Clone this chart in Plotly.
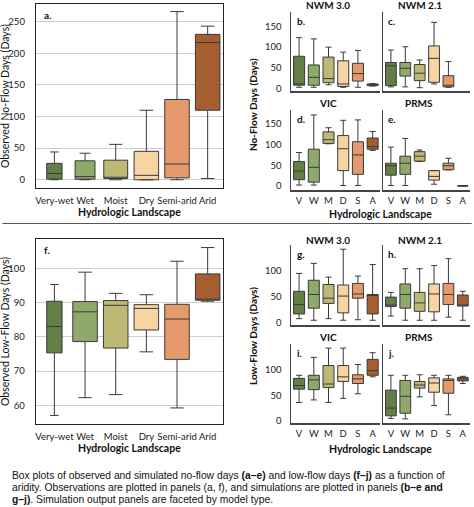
import plotly.graph_objects as go

landscapes = ["Very-wet", "Wet", "Moist", "Dry", "Semi-arid", "Arid"]
short_labels = ["V", "W", "M", "D", "S", "A"]
colors = ["#627f45", "#8fa96a", "#bdb974", "#f7d4a2", "#e49a6b", "#a65d30"]

# each row: [lower whisker, q1, median, q3, upper whisker]
obs_noflow = [[0, 1, 10, 26, 44], [0, 1, 5, 30, 42], [0, 2, 4, 31, 56],
              [0, 0, 7, 45, 110], [0, 3, 25, 127, 266], [2, 110, 217, 230, 243]]
nwm30_noflow = [[3, 8, 11, 78, 123], [3, 8, 27, 57, 120], [9, 14, 24, 76, 100],
                [3, 5, 11, 67, 88], [3, 18, 36, 61, 92], [6, 7, 9, 11, 12]]
nwm21_noflow = [[4, 7, 55, 63, 93], [4, 30, 49, 63, 101], [2, 19, 37, 58, 69],
                [11, 15, 73, 103, 160], [3, 4, 8, 31, 65], None]
vic_noflow = [[2, 15, 36, 59, 81], [2, 9, 45, 89, 172], [102, 103, 112, 131, 141],
              [1, 37, 90, 122, 159], [1, 28, 75, 107, 160], [86, 89, 95, 116, 132]]
prms_noflow = [[1, 26, 49, 55, 94], [1, 28, 55, 72, 115], [59, 60, 72, 83, 87],
               [4, 14, 23, 37, 37], [39, 39, 49, 55, 67], [0, 0, 0, 0, 0]]

obs_lowflow = [[57, 75.3, 83, 90.4, 95.3], [62.2, 78.6, 87.3, 90.3, 98.9],
               [63.1, 76.7, 89.2, 90.6, 92.7], [75.6, 82, 88.3, 89.4, 92.3],
               [59.2, 73.4, 85.2, 89.5, 102.1], [90.4, 90.7, 91, 98.4, 106.1]]
nwm30_lowflow = [[8, 17, 35, 60, 94], [5, 28, 54, 81, 113], [8, 37, 47, 73, 87],
                 [5, 19, 51, 72, 140], [6, 47, 55, 75, 89], [5, 17, 52, 54, 111]]
nwm21_lowflow = [[13, 31, 34, 49, 58], [5, 28, 54, 74, 103], [5, 22, 38, 58, 103],
                 [5, 21, 55, 74, 109], [11, 35, 54, 75, 122], [5, 32, 34, 53, 60]]
vic_lowflow = [[36, 62, 69, 83, 89], [41, 61, 80, 89, 124], [36, 65, 72, 108, 142],
               [44, 77, 86, 108, 142], [53, 73, 82, 90, 110], [86, 89, 98, 120, 133]]
prms_lowflow = [[5, 10, 25, 60, 89], [4, 15, 48, 79, 89], [47, 64, 70, 77, 90],
                [30, 56, 74, 84, 89], [12, 54, 79, 82, 89], [73, 78, 82, 85, 87]]

caption_lines = [
    "Box plots of observed and simulated no-flow days <b>(a–e)</b> and low-flow days <b>(f–j)</b> as a function of",
    "aridity. Observations are plotted in panels (a, f), and simulations are plotted in panels <b>(b–e and</b>",
    "<b>g–j)</b>. Simulation output panels are faceted by model type.",
]

W, H = 474, 507
FONT = "Lato"
LINE = "#3a3a3a"


def fx(p):
    return p / W


def fy(p):
    return 1 - p / H


fig = go.Figure()

# axis id, data, labels, x px, y px, y range, tick vals, show x labels, show y labels, framed, letter, widths
panels = [
    ("", obs_noflow, landscapes, (36, 223), (4, 188), [-13, 278], [0, 50, 100, 150, 200, 250], True, True, True, "a.", [0.5, 0.65, 0.78, 0.8, 0.8, 0.8]),
    ("2", nwm30_noflow, short_labels, (291, 380), (12, 91), [-6, 185], [0, 50, 100, 150], False, True, False, "b.", [0.75] * 6),
    ("3", nwm21_noflow, short_labels, (383, 470), (12, 91), [-6, 185], [0, 50, 100, 150], False, False, False, "c.", [0.75] * 6),
    ("4", vic_noflow, short_labels, (291, 380), (110, 190), [-10, 184], [0, 50, 100, 150], True, True, False, "d.", [0.75] * 6),
    ("5", prms_noflow, short_labels, (383, 470), (110, 190), [-10, 184], [0, 50, 100, 150], True, False, False, "e.", [0.75] * 6),
    ("6", obs_lowflow, landscapes, (36, 223), (239, 424), [54.5, 108.6], [60, 70, 80, 90, 100], True, True, True, "f.", [0.5, 0.8, 0.8, 0.8, 0.8, 0.8]),
    ("7", nwm30_lowflow, short_labels, (291, 380), (245, 325), [-4, 148], [0, 50, 100], False, True, False, "g.", [0.75] * 6),
    ("8", nwm21_lowflow, short_labels, (383, 470), (245, 325), [-4, 148], [0, 50, 100], False, False, False, "h.", [0.75] * 6),
    ("9", vic_lowflow, short_labels, (291, 380), (344, 423), [-4, 150], [0, 50, 100], True, True, False, "i.", [0.75] * 6),
    ("10", prms_lowflow, short_labels, (383, 470), (344, 423), [-4, 150], [0, 50, 100], True, False, False, "j.", [0.75] * 6),
]

layout_axes = {}
annotations = []
for sid, data, labels, xpx, ypx, yr, tv, showx, showy, framed, letter, widths in panels:
    xref = "x" + sid
    yref = "y" + sid
    for lab, stats, col, w in zip(labels, data, colors, widths):
        if stats is None:
            continue
        lo, q1, med, q3, hi = stats
        fig.add_trace(go.Box(
            x=[lab], q1=[q1], median=[med], q3=[q3], lowerfence=[lo], upperfence=[hi],
            xaxis=xref, yaxis=yref, fillcolor=col,
            line=dict(color=LINE, width=1), width=w, whiskerwidth=0.55,
            boxpoints=False, showlegend=False, hoverinfo="skip",
        ))
    xa = dict(
        domain=[fx(xpx[0]), fx(xpx[1])], anchor=yref, type="category",
        categoryorder="array", categoryarray=labels,
        range=[-0.6, 5.5] if framed else [-0.55, 5.5],
        showticklabels=showx, ticks="", showgrid=False, zeroline=False,
        tickangle=0, automargin=False,
        tickfont=dict(family=FONT, size=9.5, color="#222"),
        ticklabelstandoff=3 if framed else 1,
        showline=True, linecolor="#222" if framed else "#444",
        linewidth=1.2 if framed else 1.5, mirror=framed, fixedrange=True,
    )
    ya = dict(
        domain=[fy(ypx[1]), fy(ypx[0])], anchor=xref, range=yr,
        tickvals=tv, showticklabels=showy, ticks="", automargin=False,
        showgrid=framed, gridcolor="#cfcfcf", gridwidth=1, zeroline=False,
        tickfont=dict(family=FONT, size=9.5, color="#222"),
        ticklabelstandoff=8 if framed else 6,
        showline=True, linecolor="#222" if framed else "#444",
        linewidth=1.2 if framed else 1.5, mirror=framed, fixedrange=True,
    )
    layout_axes["xaxis" + sid] = xa
    layout_axes["yaxis" + sid] = ya
    annotations.append(dict(
        text="<b>" + letter + "</b>", xref=xref + " domain", yref=yref + " domain",
        x=0.03 if framed else 0.04, y=0.985, xanchor="left", yanchor="top",
        showarrow=False, font=dict(family=FONT, size=10, color="#111"),
    ))


def txt(text, x, y, size=10, bold=False, angle=0, family=FONT, anchor="center"):
    return dict(
        text=("<b>" + text + "</b>") if bold else text, xref="paper", yref="paper",
        x=fx(x), y=fy(y), xanchor=anchor, yanchor="middle", showarrow=False,
        textangle=angle, font=dict(family=family, size=size, color="#111"),
        borderpad=0,
    )


annotations += [
    txt("Observed No-Flow Days (Days)", 5, 96, size=10.5, angle=-90),
    txt("Hydrologic Landscape", 129, 212, size=10.5, bold=True),
    txt("Observed Low-Flow Days (Days)", 5, 332, size=10.5, angle=-90),
    txt("Hydrologic Landscape", 129, 448, size=10.5, bold=True),
    txt("NWM 3.0", 328, 5, size=10, bold=True),
    txt("NWM 2.1", 420, 5, size=10, bold=True),
    txt("VIC", 328, 103, size=10, bold=True),
    txt("PRMS", 419, 103, size=10, bold=True),
    txt("NWM 3.0", 328, 240, size=10, bold=True),
    txt("NWM 2.1", 420, 240, size=10, bold=True),
    txt("VIC", 328, 337, size=10, bold=True),
    txt("PRMS", 419, 337, size=10, bold=True),
    txt("No-Flow Days (Days)", 253, 105, size=10, bold=True, angle=-90),
    txt("Low-Flow Days (Days)", 253, 336, size=10, bold=True, angle=-90),
    txt("Hydrologic Landscape", 380, 214, size=10.5, bold=True),
    txt("Hydrologic Landscape", 380, 449, size=10.5, bold=True),
]

for i, line in enumerate(caption_lines):
    annotations.append(txt(line, 11, 475 + 12.2 * i, size=10.3,
                           family="Liberation Sans", anchor="left"))

fig.update_layout(
    width=W, height=H, margin=dict(l=0, r=0, t=0, b=0),
    paper_bgcolor="white", plot_bgcolor="white",
    boxmode="overlay", annotations=annotations,
    shapes=[dict(type="line", xref="paper", yref="paper", x0=0.005, x1=0.995,
                 y0=fy(223.5), y1=fy(223.5), line=dict(color="#555", width=1))],
    **layout_axes,
)

fig.write_html(
    "out.html",
    config={"displayModeBar": False, "staticPlot": True},
    post_script="document.body.style.margin='0';document.body.style.padding='0';"
                "document.body.style.overflow='hidden';",
)
